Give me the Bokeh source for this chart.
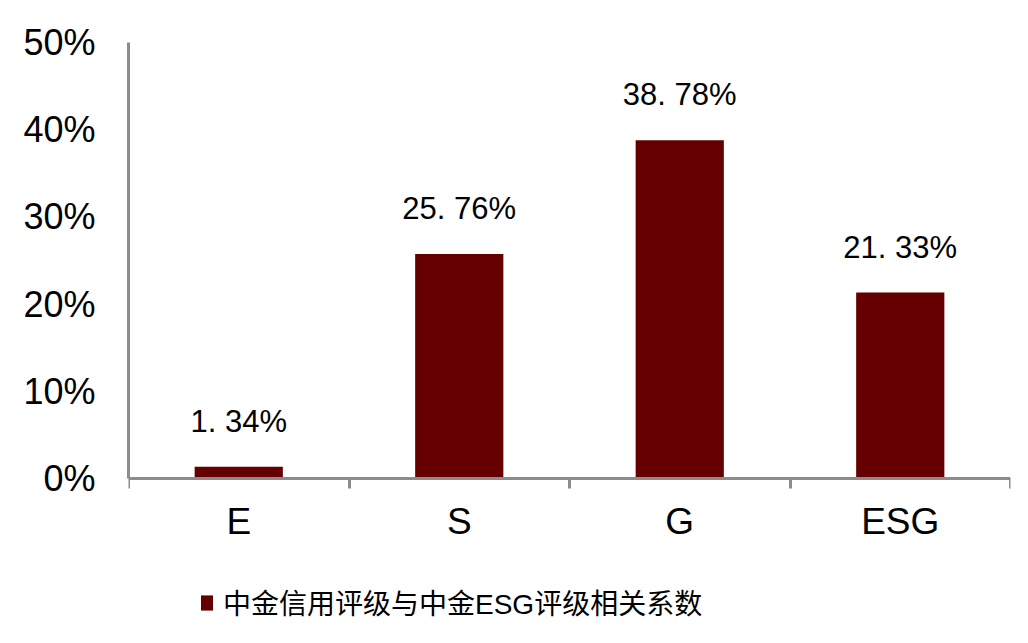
from bokeh.plotting import figure
from bokeh.models import (ColumnDataSource, Range1d, FixedTicker, LabelSet,
                          Legend, LegendItem, CustomJSTickFormatter)
from bokeh.core.properties import value
from bokeh.embed import file_html
from bokeh.resources import INLINE

categories = ["E", "S", "G", "ESG"]
values = [1.34, 25.76, 38.78, 21.33]
y_ticks = [0, 10, 20, 30, 40, 50]
series_name = "中金信用评级与中金ESG评级相关系数"

xs = [i + 0.5 for i in range(len(categories))]
labels = [f"{v:.2f}%".replace(".", ". ") for v in values]
src = ColumnDataSource(dict(x=xs, top=values, label=labels))

AXIS = "#8c8c8c"
FONT = "'Liberation Sans', Arial, 'Noto Sans CJK SC'"

# frame extends below the x axis so the legend can sit inside it
p = figure(width=1020, height=640, output_backend="svg", toolbar_location=None,
           x_range=Range1d(0, len(categories)), y_range=Range1d(-18.0, 50),
           min_border_left=128, min_border_right=10, min_border_top=42,
           min_border_bottom=5, background_fill_color="white",
           border_fill_color="white")
p.outline_line_color = None
p.grid.visible = False

r = p.vbar(x="x", top="top", width=0.4, bottom=0, source=src,
           fill_color="#660000", line_color=None)

# x axis, fixed at y = 0
xa = p.xaxis[0]
xa.fixed_location = 0
xa.ticker = FixedTicker(ticks=xs, minor_ticks=list(range(len(categories) + 1)))
xa.major_label_overrides = {x: c for x, c in zip(xs, categories)}
xa.axis_line_color = AXIS
xa.axis_line_width = 3
xa.major_tick_line_color = None
xa.major_tick_out = 0
xa.major_tick_in = 0
xa.minor_tick_line_color = AXIS
xa.minor_tick_line_width = 3
xa.minor_tick_out = 10
xa.minor_tick_in = 0
xa.major_label_text_font = FONT
xa.major_label_text_font_size = "37px"
xa.major_label_text_color = "black"
xa.major_label_standoff = 12

# y axis
ya = p.yaxis[0]
ya.bounds = (0, 50)
ya.ticker = FixedTicker(ticks=y_ticks, minor_ticks=[])
ya.formatter = CustomJSTickFormatter(code="return tick.toFixed(0) + '%';")
ya.axis_line_color = AXIS
ya.axis_line_width = 3
ya.major_tick_line_color = None
ya.major_tick_out = 0
ya.major_tick_in = 0
ya.minor_tick_line_color = None
ya.major_label_text_font = FONT
ya.major_label_text_font_size = "36px"
ya.major_label_text_color = "black"
ya.major_label_standoff = 33

lab = LabelSet(x="x", y="top", text="label", source=src, y_offset=35,
               text_align="center", text_baseline="alphabetic",
               text_font=value("'Liberation Sans', Arial"),
               text_font_size="31px", text_color="black")
p.add_layout(lab)

legend = Legend(items=[LegendItem(label=series_name, renderers=[r])],
                location=(71, 13), orientation="horizontal",
                border_line_color=None, background_fill_alpha=0,
                padding=0, margin=0, spacing=0,
                glyph_width=15, glyph_height=19, label_standoff=9,
                label_text_font=FONT, label_text_font_size="28px",
                label_text_color="black")
p.add_layout(legend)

open("out.html", "w").write(file_html(p, INLINE))
